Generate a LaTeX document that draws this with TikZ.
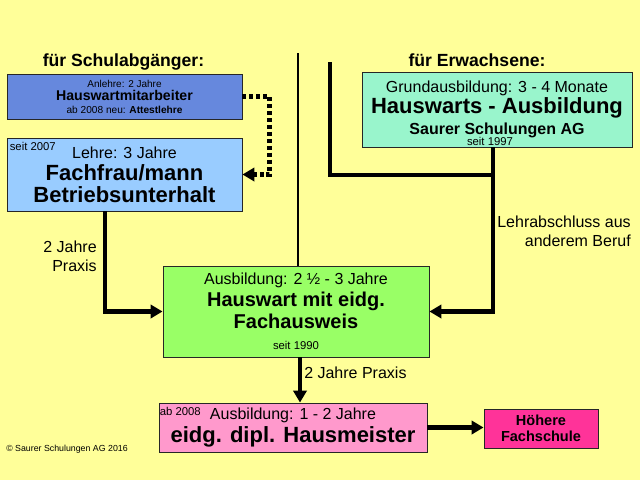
\documentclass[tikz,border=0pt]{standalone}
\usepackage{fontspec}
\setmainfont{Liberation Sans}
\usetikzlibrary{arrows.meta,positioning}
\definecolor{paper}{HTML}{FFFF99}
\definecolor{anlehre}{HTML}{6688DD}
\definecolor{lehre}{HTML}{99CCFF}
\definecolor{grund}{HTML}{99F5CC}
\definecolor{fach}{HTML}{99FF66}
\definecolor{dipl}{HTML}{FF99CC}
\definecolor{hfs}{HTML}{FF3399}

\begin{document}
\begin{tikzpicture}[x=0.75pt,y=-0.75pt,
  box/.style={draw=black!85,line width=0.7pt,inner sep=0pt,align=center},
  note/.style={inner sep=0pt,font=\fontsize{8.5}{10}\selectfont},
  lbl/.style={inner sep=0pt,font=\fontsize{12}{14.5}\selectfont},
  head/.style={inner sep=0pt,font=\fontsize{13.2}{16}\selectfont\bfseries},
  link/.style={line width=3.6pt},
  flow/.style={link,-{Triangle[length=9pt,width=10pt]}},
  dots/.style={line width=3.4pt,dash pattern=on 3pt off 2.2pt,
    -{Triangle[length=9pt,width=10pt]}}
]
  \fill[paper] (0,0) rectangle (640,480);
  \useasboundingbox (0,0) rectangle (640,480);

  % headings
  \node[head] (young) at (123.5,62) {für Schulabgänger:};
  \node[head] (adult) at (477,60) {für Erwachsene:};

  % boxes
  \node[box,fill=anlehre,minimum width=176.25pt,minimum height=33.75pt,
    font=\fontsize{7.5}{9.75}\selectfont] (abox) at (124.5,96.5)
    {Anlehre: 2 Jahre\\
     {\fontsize{10.6}{12}\selectfont\bfseries Hauswartmitarbeiter}\\
     {\fontsize{7.6}{9}\selectfont ab 2008 neu: \textbf{Attestlehre}}};
  \node[box,fill=lehre,minimum width=176.25pt,minimum height=54.75pt,
    font=\fontsize{12}{16.5}\selectfont] (bbox) at (124.5,174.5)
    {Lehre: 3 Jahre\\
     {\fontsize{16.5}{18}\selectfont\bfseries Fachfrau/mann}\\
     {\fontsize{16.5}{18}\selectfont\bfseries Betriebsunterhalt}};
  \node[box,fill=grund,minimum width=202.5pt,minimum height=56.25pt,
    font=\fontsize{12}{15.5}\selectfont] (cbox) at (497,109.5)
    {Grundausbildung: 3 - 4 Monate\\
     {\fontsize{16.5}{18}\selectfont\bfseries Hauswarts - Ausbildung}\\
     {\bfseries Saurer Schulungen AG}};
  \node[box,fill=fach,minimum width=199.5pt,minimum height=68.25pt,
    font=\fontsize{12}{16.25}\selectfont] (dbox) at (296,311.5)
    {Ausbildung: 2 ½ - 3 Jahre\\
     {\fontsize{15}{17}\selectfont\bfseries Hauswart mit eidg.}\\
     {\fontsize{15}{17}\selectfont\bfseries Fachausweis}\\
     {\fontsize{8.5}{10}\selectfont seit 1990}};
  \node[box,fill=dipl,minimum width=201pt,minimum height=36.75pt,
    font=\fontsize{12}{17.25}\selectfont] (ebox) at (293,427.5)
    {Ausbildung: 1 - 2 Jahre\\
     {\fontsize{16.5}{18}\selectfont\bfseries eidg. dipl. Hausmeister}};
  \node[box,fill=hfs,minimum width=85.5pt,minimum height=29.25pt,
    font=\fontsize{10.9}{12}\selectfont\bfseries] (fbox) at (541,428.5)
    {Höhere\\Fachschule};

  % small notes
  \node[note,anchor=north west] (since07) at ([xshift=2.25pt,yshift=-3pt]bbox.north west) {seit 2007};
  \node[note] (since97) at ([xshift=-5.25pt,yshift=4.5pt]cbox.south) {seit 1997};
  \node[note,anchor=north west] (since08) at ([xshift=0.75pt,yshift=-3pt]ebox.north west) {ab 2008};

  % labels
  \node[lbl,align=right,anchor=east] (praxisl) at (97,256.5) {2 Jahre\\Praxis};
  \node[lbl,align=right,anchor=east] (beruf) at (631,231) {Lehrabschluss aus\\anderem Beruf};
  \node[lbl,anchor=west] (praxisd) at (304,373) {2 Jahre Praxis};
  \node[inner sep=0pt,anchor=west,font=\fontsize{6.6}{8}\selectfont] (copy) at (6,449)
    {© Saurer Schulungen AG 2016};

  % connectors
  \coordinate (midtop) at (298,53);
  \coordinate (adulttop) at (330,62);
  \coordinate (join) at (493,175);
  \draw[line width=2.2pt] (midtop) -- (midtop |- dbox.north);
  \draw[dots] (abox.east) -- ++(27,0) |- (bbox.east);
  \draw[flow] ([xshift=-14.6pt]bbox.south) |- (dbox.west);
  \draw[link] (adulttop) |- (join);
  \draw[flow] ([xshift=-3pt]cbox.south) |- (dbox.east);
  \draw[flow] ([xshift=3pt]dbox.south) -- ([xshift=3pt]dbox.south |- ebox.north);
  \draw[flow] (ebox.east) -- (ebox.east -| fbox.west);
\end{tikzpicture}
\end{document}
